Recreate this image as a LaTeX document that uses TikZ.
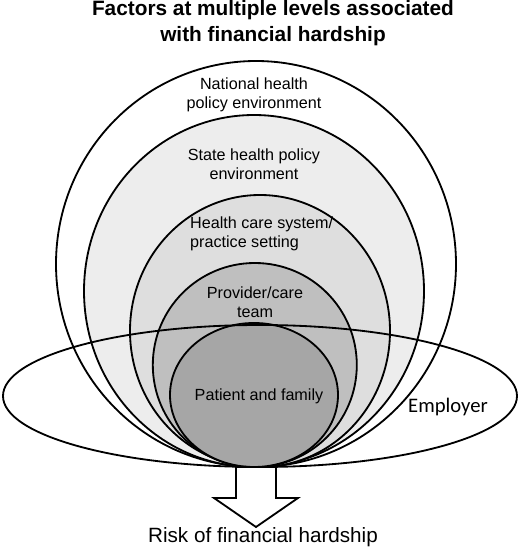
\documentclass[tikz,border=0pt]{standalone}
\usepackage{fontspec}
\setmainfont{Liberation Sans}
\newfontfamily\employerfont{Carlito}
\usetikzlibrary{positioning}
\colorlet{nationalfill}{white}
\colorlet{statefill}{black!7}
\colorlet{systemfill}{black!13}
\colorlet{providerfill}{black!25}
\colorlet{patientfill}{black!35}

\begin{document}
\begin{tikzpicture}[levelring/.style={draw=black, line width=1.3pt},
    leveltext/.style={align=center, font=\fontsize{11.5pt}{13.5pt}\selectfont}]
    \useasboundingbox (0,0) rectangle (13,13.7);
    \node[align=center, font=\bfseries\fontsize{14.8pt}{18.4pt}\selectfont] (title) at (6.825,13.12)
      {Factors at multiple levels associated\\with financial hardship};

    % nested levels, outer to inner
    \draw[levelring, fill=nationalfill] (6.4,7.1) ellipse [x radius=5.0, y radius=5.075];
    \draw[levelring, fill=statefill] (6.35,6.425) ellipse [x radius=4.25, y radius=4.4];
    \draw[levelring, fill=systemfill] (6.5,5.425) ellipse [x radius=3.25, y radius=3.4];
    \draw[levelring, fill=providerfill] (6.37,4.575) circle [radius=2.55];
    \draw[levelring, fill=patientfill] (6.35,3.825) ellipse [x radius=2.1, y radius=1.8];
    \draw[levelring] (6.5,3.8) ellipse [x radius=6.425, y radius=1.775];

    \node[leveltext] (national) at (6.35,11.34) {National health\\policy environment};
    \node[leveltext] (state) at (6.35,9.59) {State health policy\\environment};
    \node[leveltext, align=left] (system) at (6.54,7.85) {Health care system/\\practice setting};
    \node[leveltext] (provider) at (6.375,6.15) {Provider/care\\team};
    \node[leveltext] (patient) at (6.475,3.79) {Patient and family};
    \node[font=\employerfont\fontsize{14.7pt}{17pt}\selectfont] (employer) at (11.2,3.525) {Employer};

    % block arrow down to the outcome
    \coordinate (base) at (6.4,2.025);
    \draw[levelring, fill=white] ([xshift=-5mm]base) -- ++(0,-0.775) -- ++(-0.55,0) -- ++(1.05,-0.725)
      -- ++(1.05,0.725) -- ++(-0.55,0) -- ++(0,0.775) -- cycle;
    \node[font=\fontsize{14.7pt}{17pt}\selectfont] (risk) at (6.575,0.27) {Risk of financial hardship};
\end{tikzpicture}
\end{document}
